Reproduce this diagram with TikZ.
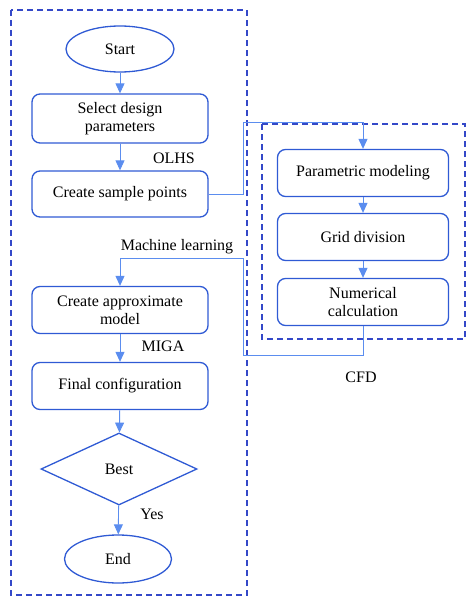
\documentclass[tikz,border=0pt]{standalone}
\usepackage{fontspec}
\setmainfont{Liberation Serif}
\usetikzlibrary{arrows.meta, shapes.geometric}

\definecolor{boxblue}{HTML}{2F5AD4}
\definecolor{lineblue}{HTML}{5B8DEF}
\definecolor{dashblue}{HTML}{3448C8}

\begin{document}
\begin{tikzpicture}[x=1pt, y=-1pt, font=\fontsize{16}{18}\selectfont,
    flow/.style={draw=lineblue, line width=0.9pt},
    arr/.style={flow, -{Triangle[width=9pt, length=10pt]}},
    term/.style={ellipse, draw=boxblue, line width=1.3pt, inner sep=0pt},
    proc/.style={rectangle, rounded corners=8pt, draw=boxblue, line width=1.3pt,
        minimum width=176pt, align=center, inner sep=0pt},
    cfdbox/.style={proc, minimum width=171pt, minimum height=47pt},
    decide/.style={diamond, draw=boxblue, line width=1.3pt, inner sep=0pt,
        minimum width=156pt, minimum height=72pt},
    frame/.style={draw=dashblue, line width=1.3pt, dash pattern=on 6pt off 4pt}]

    \useasboundingbox (0,0) rectangle (474,607);

    % frames
    \draw[frame] (11,10) rectangle (247,595);
    \draw[frame] (262,124) rectangle (465,339);

    % main column
    \node[term, minimum width=108pt, minimum height=46pt] (start) at (120,49) {Start};
    \node[proc, minimum height=49pt] (select) at (120,118.5) {Select design\\parameters};
    \node[proc, minimum height=46pt] (sample) at (120,194) {Create sample points};
    \node[proc, minimum height=47pt] (approx) at (120,310) {Create approximate\\model};
    \node[proc, minimum height=47pt] (final) at (120,386) {Final configuration};
    \node[decide] (best) at (119,469) {Best};
    \node[term, minimum width=107pt, minimum height=48pt] (end) at (118,559) {End};

    % CFD column
    \node[cfdbox] (param) at (363,173) {Parametric modeling};
    \node[cfdbox] (grid) at (363,237) {Grid division};
    \node[cfdbox] (numcalc) at (363,302) {Numerical\\calculation};

    % labels
    \node (olhs) at (174,158) {OLHS};
    \node (ml) at (177,247) {Machine learning};
    \node (miga) at (163,346) {MIGA};
    \node (yes) at (152,514) {Yes};
    \node (cfd) at (361,377) {CFD};

    \coordinate (up) at (243,122);
    \coordinate (back) at (243,355);
    \coordinate (turn) at (243,258);

    \draw[arr] (start) -- (select);
    \draw[arr] (select) -- (sample);
    \draw[arr] (sample.east) -| (up) -| (param.north);
    \draw[arr] (param) -- (grid);
    \draw[arr] (grid) -- (numcalc);
    \draw[arr] (numcalc.south) |- (back) -- (turn) -| (approx.north);
    \draw[arr] (approx) -- (final);
    \draw[arr] (final) -- (best);
    \draw[arr] (best) -- (end);
\end{tikzpicture}
\end{document}
